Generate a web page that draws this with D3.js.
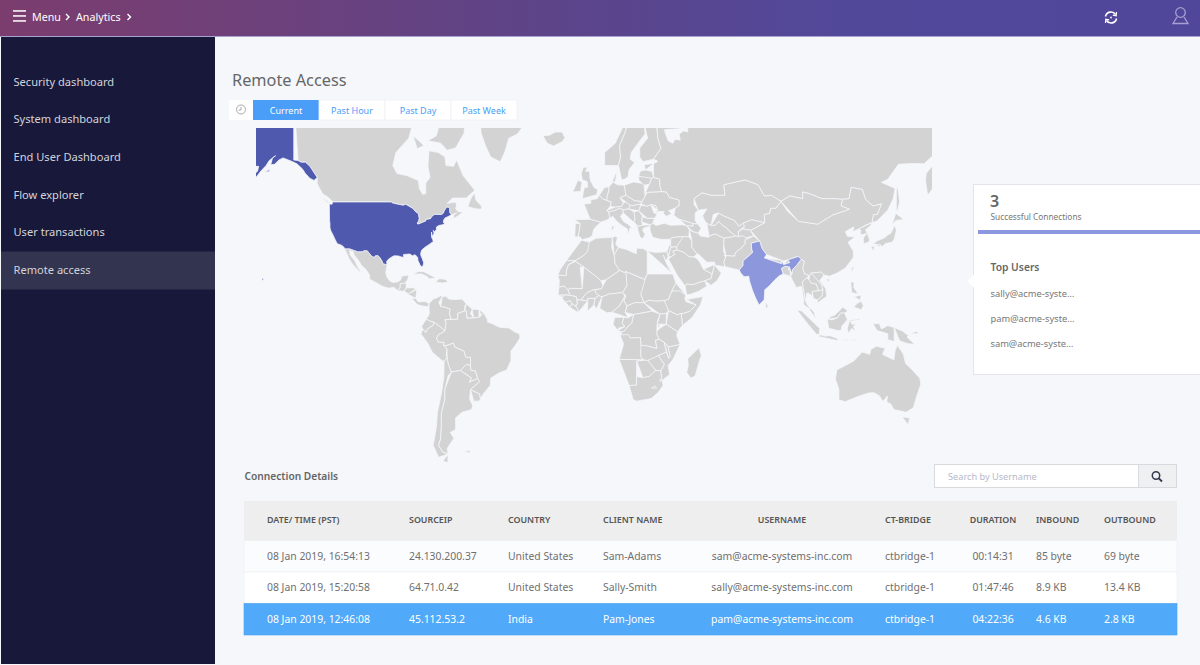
<!DOCTYPE html>
<html><head><meta charset="utf-8">
<script src="https://cdn.jsdelivr.net/npm/d3@7"></script>
<style>
html,body{margin:0;padding:0;background:#f5f7fb;overflow:hidden}
svg{display:block}
text{font-family:"Noto Sans",sans-serif}
</style></head><body>
<script>
// ---------- page text ----------
const navItems = ["Security dashboard","System dashboard","End User Dashboard","Flow explorer","User transactions","Remote access"];
const activeNav = "Remote access";
const tabs = ["Current","Past Hour","Past Day","Past Week"];
const topUsers = ["sally@acme-syste…","pam@acme-syste…","sam@acme-syste…"];
const tableColumns = ["DATE/ TIME (PST)","SOURCEIP","COUNTRY","CLIENT NAME","USERNAME","CT-BRIDGE","DURATION","INBOUND","OUTBOUND"];
const dateTimes = ["08 Jan 2019, 16:54:13","08 Jan 2019, 15:20:58","08 Jan 2019, 12:46:08"];
const sourceIps = ["24.130.200.37","64.71.0.42","45.112.53.2"];
const connCountries = ["United States","United States","India"];
const clientNames = ["Sam-Adams","Sally-Smith","Pam-Jones"];
const usernames = ["sam@acme-systems-inc.com","sally@acme-systems-inc.com","pam@acme-systems-inc.com"];
const bridges = ["ctbridge-1","ctbridge-1","ctbridge-1"];
const durations = ["00:14:31","01:47:46","04:22:36"];
const inbound = ["85 byte","8.9 KB","4.6 KB"];
const outbound = ["69 byte","13.4 KB","2.8 KB"];
const successfulConnections = 3;

// ---------- map outlines: flat lon,lat lists ----------
const unitedStates = [
[-124.3,48.4,-123,48.3,-122.8,49,-95.2,49,-94.6,48.7,-92,48.3,-89.6,48,-88.4,48.3,-84.9,46.9,-84.5,46.5,-83.6,45.8,-82.5,45.3,-82.1,43.6,-82.5,42.6,-83.1,42.1,-82.7,41.7,-79,42.8,-79,43.3,-76.8,43.6,-76.3,44.2,-75,45,-71.5,45,-70.8,45.4,-70.3,46.2,-69.2,47.45,-68.3,47.3,-67.8,47.1,-67.8,45.7,-67,44.9,-68.5,44.3,-70,43.8,-70.7,43,-70.7,42.2,-70,41.8,-71.2,41.5,-72.9,41.2,-74,40.7,-74,39.8,-74.9,38.9,-75.5,39.5,-75.1,38.4,-75.9,37.2,-76.3,38.9,-76.3,37,-75.7,36,-75.5,35.2,-76.6,34.7,-77.9,33.9,-79.2,33.2,-80.9,32,-81.4,30.7,-81.3,29.8,-80.6,28.4,-80,26.8,-80.3,25.4,-81.1,25.1,-81.8,26.1,-82.7,27.8,-82.8,29,-84,30.1,-85.3,29.7,-86.5,30.4,-88,30.3,-89.5,30.2,-89.3,29.1,-90.5,29.2,-91.8,29.6,-93.8,29.7,-94.8,29.3,-96.5,28.3,-97.4,27.3,-97.2,25.95,-99.1,26.4,-99.5,27.5,-100.7,29.1,-101.5,29.8,-102.7,29.7,-103.2,29,-104.5,29.6,-106.5,31.75,-108.2,31.75,-108.2,31.33,-111,31.33,-114.8,32.5,-117.1,32.5,-117.3,33,-118.4,33.8,-119.2,34.1,-120.6,34.5,-121.9,36.6,-122.5,37.7,-123.6,39.3,-124,40.4,-124,42,-124.2,43,-123.8,46.2],
[-141,72,-141,60.3,-139,60.2,-137.5,59.8,-135.5,59.8,-133.4,58.8,-130,56,-131.5,55.2,-133.5,55.8,-135.5,57,-137,58.2,-139.5,59.4,-142,60,-146,60.8,-148,60.3,-150,59.3,-151.8,59.2,-151,60.8,-149.5,61.3,-152.5,60.2,-154,59,-156.5,57.6,-158.5,56.2,-161,55.2,-163.5,54.7,-161.5,55.9,-158,57.6,-157.5,58.8,-160,58.8,-162,58.7,-162,60,-165,60.8,-166,62,-164,63,-161,63.6,-161,64.5,-165,64.5,-168,65.7,-164,66.5,-163,67,-166,72],
[-154.6,57.4,-152.5,57.5,-152.5,58,-153.5,58],
[-155.9,19,-155,19.6,-155.8,20.2,-156,19.6]
];
const india = [
[68.2,23.7,70,25.7,70,27.5,74.5,31,74,32.7,73.9,34.7,77.8,35.5,79,32.5,81,30.2,80,28.8,88,26.4,88.2,27.8,89,26,92,26.9,91,28,96,29.4,97.3,28.2,95,25.5,93.3,24,93,22,92,24.5,91.2,23.7,92,25,89.8,25.3,88,24.5,88.8,22,87,21.2,85,19.5,82.3,16.7,80.2,15,80,12,79.9,10.3,77.5,8,76,11,74.5,14.5,73,19,72.7,21,70.5,20.8,69,22.3,70,22.9]
];
const northAmerica = [
[-141,72,-60,72,-60,68,-85,68,-86,66.5,-87,65,-93,62,-94.5,59,-92.5,57,-88,56.5,-82.5,55.2,-82,53,-80.5,51.3,-79,51.5,-79,54.5,-77,56,-78,58.8,-77.5,62.4,-73,62,-70,61,-69.5,59,-66,58.8,-64.5,60.3,-61.5,56.5,-56,52.5,-60,50.2,-66.5,50.2,-69,48.5,-65,49,-64.5,47.9,-65,47,-64,46,-61.5,45.7,-63.5,44.7,-66,43.6,-66,44.8,-64.5,45.5,-67,44.9,-67.8,45.7,-67.8,47.1,-68.3,47.3,-69.2,47.45,-70.3,46.2,-70.8,45.4,-71.5,45,-75,45,-76.3,44.2,-76.8,43.6,-79,43.3,-79,42.8,-82.7,41.7,-83.1,42.1,-82.5,42.6,-82.1,43.6,-82.5,45.3,-83.6,45.8,-84.5,46.5,-84.9,46.9,-88.4,48.3,-89.6,48,-92,48.3,-94.6,48.7,-95.2,49,-122.8,49,-123,49.3,-125,50.5,-127.5,51.5,-130,54.3,-130,56,-133.4,58.8,-135.5,59.8,-137.5,59.8,-139,60.2,-141,60.3],
[-80,72,-60,72,-61,66,-65,63,-69,62.5,-72,64,-78,64.5,-74,65.5,-73,67,-80,67.5],
[-85,65.5,-81,64,-80,63.5,-83,62.8,-87,63.5],
[-59.3,47.6,-55.9,46.9,-53,46.7,-52.7,47.6,-55.5,49.6,-56,51.6,-57.5,50.5,-59,48.5],
[-123.4,48.4,-125.5,48.9,-128,50.6,-125,50],
[-61,46.9,-60,46,-61,45.6],
[-55,75,-53,66,-51,63.5,-48.5,61,-44,59.9,-42,62,-40,65,-36,65.8,-32,68,-22,71,-20,80,-60,82],
[-24,65.5,-22,64,-19,63.4,-15,64.3,-13.6,65.1,-15,66.2,-18,66.2,-21,65.6,-22.5,66.4],
[-117.1,32.5,-114.8,32.5,-111,31.33,-108.2,31.33,-108.2,31.75,-106.5,31.75,-104.5,29.6,-103.2,29,-102.7,29.7,-101.5,29.8,-100.7,29.1,-99.5,27.5,-99.1,26.4,-97.2,25.95,-97.8,22.5,-97.2,20.6,-96,19,-94.5,18.2,-92,18.6,-90.7,19.5,-90.4,21,-87,21.5,-87.5,19.5,-88.3,18.5,-89.15,17.8,-91,17.8,-91,16.1,-92.2,14.5,-94,16.1,-96.5,15.7,-99.5,16.6,-102,18,-105.5,19.8,-105.4,21.5,-107,23.8,-109.4,26,-110.6,27.8,-112.7,30,-113,31.3,-114.8,31.8,-114.5,30,-112.5,27.8,-110.7,24.5,-109.5,23,-110.2,23,-112.2,25,-114,27,-115,28.5,-116,31],
[-92.2,14.5,-91,16.1,-91,17.8,-89.15,17.8,-88.3,18.5,-88.2,16,-89.2,14.3,-90.5,13.9],
[-89.2,14.3,-88.2,15.8,-85,15.9,-83.2,15,-84.7,14.8,-87,13,-87.8,13.3],
[-87.6,13,-83.2,15,-83.7,11,-85.7,11.1],
[-85.7,11.1,-83.7,11,-82.5,9.4,-79.5,9.6,-77.4,8.7,-77.9,7.2,-80,7.4,-81.5,7.7,-83,8.2,-85.7,10],
[-84.9,21.9,-82.5,23.1,-80,23,-77,21.6,-74.2,20.2,-77.7,19.85,-78,20.7,-81,22,-82.5,22.2],
[-74.4,18.4,-72.8,19.9,-69.9,19.7,-68.4,18.6,-71,18,-72,18.1],
[-78.3,18.4,-76.3,18.2,-77.3,17.8],
[-67.2,18.4,-65.7,18.3,-66.8,17.9]
];
const southAmerica = [
[-77.4,8.7,-75.5,10.7,-74,11.2,-71.7,12.4,-71.3,11.7,-72.9,9.1,-72,7.3,-70,7,-67.5,6.1,-67.9,4,-67,1.2,-70,1.1,-69.5,-0.5,-70,-4.2,-72,-2.4,-75.2,-0.1,-77,0.4,-78.8,1.4,-77.3,3.8,-77.5,6.5,-77.9,7.2],
[-71.3,11.7,-69.8,12.1,-68,10.6,-64,10.5,-62,10.7,-60,8.5,-60.7,7.5,-60.7,5.2,-64,4,-64,1.3,-67,1.2,-67.9,4,-67.5,6.1,-70,7,-72,7.3,-72.9,9.1],
[-60,8.5,-57.2,6,-58,4,-56.5,1.9,-59.7,1.8,-60,5.2,-60.7,5.2,-60.7,7.5],
[-57.2,6,-54,5.8,-54,2.2,-56.5,1.9,-58,4],
[-54,5.8,-51.7,4.2,-52.7,2.3,-54,2.2],
[-78.8,1.4,-77,0.4,-75.2,-0.1,-75.5,-1.5,-78.3,-3.4,-79,-5,-80.3,-3.4,-81,-2.2,-80,0.8],
[-80.3,-3.4,-79,-5,-78.3,-3.4,-75.5,-1.5,-75.2,-0.1,-72,-2.4,-70,-4.2,-73,-6,-74,-7.5,-73,-9.4,-70.5,-9.5,-70.5,-11,-69,-12.5,-69.4,-15.5,-69,-16.5,-70.4,-18.3,-72,-17.3,-76,-14,-78,-10,-81.3,-5.5,-81.3,-4.3],
[-69,-12.5,-70.5,-11,-69.6,-11,-66,-9.8,-65.3,-11.7,-61,-13.5,-60.2,-16.3,-58,-16.3,-58,-20,-60,-19.6,-62.7,-22.2,-67,-22.9,-68.5,-19.4,-69,-16.5,-69.4,-15.5],
[-62.7,-22.2,-60,-19.6,-58,-20,-57.8,-22.1,-55.6,-22.4,-54.6,-25.6,-58.6,-27.2,-57.6,-25.4,-60,-24],
[-70.4,-18.3,-69,-16.5,-68.5,-19.4,-67,-22.9,-68.5,-24.5,-70,-30,-70,-34,-71.7,-39.5,-71.7,-44,-72,-48,-73,-50,-71,-52,-68.5,-52.4,-70.5,-53,-73,-53.5,-75.5,-50,-74,-44,-73.5,-39,-71.5,-31,-70.5,-25,-70.2,-20],
[-68.6,-52.7,-68.6,-55,-71,-54.5,-70,-53.5],
[-68.6,-52.7,-65.2,-54.8,-68.6,-55],
[-67,-22.9,-62.7,-22.2,-60,-24,-57.6,-25.4,-58.6,-27.2,-54.6,-25.6,-53.7,-27,-58,-30.2,-58.4,-34,-57,-36.5,-57.5,-38,-62,-39,-65,-41,-65,-45,-67.5,-46,-65.8,-47.8,-69,-51,-68.5,-52.4,-71,-52,-73,-50,-72,-48,-71.7,-44,-71.7,-39.5,-70,-34,-70,-30,-68.5,-24.5],
[-61,-51.8,-58,-51.5,-58.5,-52.3,-60.5,-52.2],
[-58,-30.2,-53.7,-32,-53.3,-33.9,-54,-34.8,-56.5,-34.8,-58.4,-34],
[-51.7,4.2,-50,1,-50,0,-48,-0.7,-44.3,-2.5,-40,-2.8,-37,-4.8,-35,-5.5,-34.8,-7.5,-37,-11,-39,-13.5,-39,-17.8,-41,-22,-44.5,-23.2,-48.5,-25.5,-48.7,-28.5,-52,-32,-53.3,-33.9,-53.7,-32,-58,-30.2,-53.7,-27,-54.6,-25.6,-55.6,-22.4,-57.8,-22.1,-58,-20,-58,-16.3,-60.2,-16.3,-61,-13.5,-65.3,-11.7,-66,-9.8,-69.6,-11,-70.5,-11,-70.5,-9.5,-73,-9.4,-74,-7.5,-73,-6,-70,-4.2,-69.5,-0.5,-70,1.1,-67,1.2,-64,1.3,-64,4,-60.7,5.2,-60,5.2,-59.7,1.8,-56.5,1.9,-54,2.2,-52.7,2.3]
];
const africa = [
[-5.9,35.8,-2.2,35.1,-1.2,32.1,-3,31.5,-5,29.7,-8.7,27.7,-13,27.7,-9.8,31.4,-6.8,34],
[-8.7,27.7,-13,27.7,-16,23.7,-17,21.4,-13,21.3,-13,23,-12,26,-8.7,26],
[-2.2,35.1,1,36.6,8.6,36.9,8.3,33,9.5,30,9.9,26.5,12,23.5,5.8,19.5,3.3,19,1.2,20.7,-4.8,25,-8.7,27.3,-8.7,27.7,-5,29.7,-3,31.5,-1.2,32.1],
[8.6,36.9,10,37.3,11,36.8,10.2,34.3,11.5,33,10,30.5,9.5,30,8.3,33],
[11.5,33,15,32.3,19.8,30.5,20,32.7,23,32.6,25,31.6,25,22,24,20,24,19.5,15,23,14.2,22.6,12,23.5,9.9,26.5,9.5,30,10,30.5],
[25,31.6,29,31,32,31.2,34.2,31.3,34.9,29.5,34,27.8,33.2,28.5,32.6,30,33.8,27,35.5,24,37,22,25,22],
[-8.7,27.3,-4.8,25,-6.5,25,-5.5,15.5,-11.5,15.6,-12.2,14.8,-14,16.6,-16.5,16.1,-16.3,19,-17,21.4,-13,21.3,-13,23,-12,26,-8.7,26],
[-4.8,25,1.2,20.7,3.3,19,4.2,16.8,3.5,15.4,0.5,15,-1.5,14.5,-3.5,13.4,-4.8,12,-6,10.3,-8,10.2,-8.3,11.8,-11.4,12.4,-12.2,14.8,-11.5,15.6,-5.5,15.5,-6.5,25],
[5.8,19.5,12,23.5,14.2,22.6,15,23,15.5,20,15.5,16.9,13.5,13.7,10,13.3,7,13,3.7,11.7,2.3,12.3,0.9,13.3,0.5,15,3.5,15.4,4.2,16.8,3.3,19],
[15,23,24,19.5,24,15.7,22,13,23.5,9,19,9,15.5,7.5,14,9.9,15,12.2,13.5,13.7,15.5,16.9,15.5,20],
[-16.5,16.1,-14,16.6,-12.2,14.8,-11.4,12.4,-13.7,12.6,-16.8,12.4,-17.5,14.7],
[-16.8,12.4,-13.7,12.6,-13.7,11.2,-15,11],
[-13.7,12.6,-11.4,12.4,-8.3,11.8,-8,10.2,-7.8,8.5,-9,7.6,-10.3,8.5,-11.2,10,-13.3,9.2,-15,11,-13.7,11.2],
[-13.3,9.2,-11.2,10,-10.3,8.5,-11.4,6.9,-13.3,8],
[-11.4,6.9,-10.3,8.5,-9,7.6,-8.5,7.5,-7.5,5.9,-7.5,4.4,-9.2,5.2],
[-7.5,4.4,-7.5,5.9,-8.5,7.5,-7.8,8.5,-8,10.2,-6,10.3,-4.8,10,-2.9,9.9,-3,5.2],
[-6,10.3,-4.8,12,-3.5,13.4,-1.5,14.5,0.5,15,0.9,13.3,2.3,12.3,0.5,11,-2.9,11,-2.9,9.9,-4.8,10],
[-3,5.2,-2.9,11,0.5,11,0,8,1.2,6.1],
[1.2,6.1,0,8,0.5,11,2.3,12.3,3.7,11.7,2.7,6.4],
[2.7,6.4,3.7,11.7,7,13,10,13.3,13.5,13.7,14.5,12,12,7.5,8.5,4.6,6,4.3,4.5,6.3],
[8.5,4.6,12,7.5,14.5,12,15,12.2,14,9.9,15.5,7.5,14.7,4.5,16,2,9.8,2.2],
[14.7,4.5,15.5,7.5,19,9,23.5,9,27.4,5.1,22.5,4.2,18.6,3.5,16,2],
[24,19.5,25,22,37,22,38.5,18,36.5,14.3,35,10.5,33,10,29,9.7,26,10.2,23.5,9,22,13,24,15.7],
[23.5,9,26,10.2,29,9.7,33,10,34,8.5,35,5.4,34,4,31,3.7,27.4,5.1],
[36.5,14.3,38.5,18,43.1,12.6,40,14.5],
[33,10,35,10.5,36.5,14.3,40,14.5,43.1,12.6,42.7,11,43.2,9.5,48,8,45,5,42,4,41,3.9,39,3.4,35,5.4,34,8.5],
[42.7,11,44,10.6,51.2,11.9,50,8,46,2,41.5,-1.7,41,3.9,42,4,45,5,48,8,43.2,9.5],
[35,5.4,39,3.4,41,3.9,41.5,-1.7,39.2,-4.6,33.9,-1,34,4],
[31,3.7,34,4,33.9,-1,30.7,-1,29.6,-1.4,30,1],
[33.9,-1,39.2,-4.6,38.8,-6.5,39.5,-8,40.4,-10.5,36,-11.5,34.8,-11.5,33,-9.5,30.7,-8.2,29.5,-6,29.5,-4.4,30.8,-3,30.7,-1],
[29.6,-1.4,30.7,-1,30.8,-3,29.5,-4.4],
[12.2,-6,13,-5.8,12.5,-4.5,14,-4.5,16,-2,17.7,-0.5,18.6,3.5,22.5,4.2,27.4,5.1,31,3.7,30,1,29.6,-1.4,29.5,-4.4,29.5,-6,30.7,-8.2,28.9,-8.5,29.5,-12.4,27.5,-11.8,24,-11,22,-11,21.8,-7.3,17,-7.5,16.2,-5.9],
[11.2,-4,12.5,-4.5,14,-4.5,16,-2,17.7,-0.5,18.6,3.5,16,2,14,2.2,13.2,-0.5,14.4,-2.2,11.6,-2.8],
[9.8,2.2,14,2.2,13.2,-0.5,14.4,-2.2,11.6,-2.8,11.2,-4,8.9,-1,9.3,0.5],
[12.2,-6,16.2,-5.9,17,-7.5,21.8,-7.3,22,-11,24,-11,22,-13,22,-16.2,23.4,-17.6,19,-17.4,11.8,-17.3,13.7,-11,13.8,-10,13,-8.5],
[22,-11,24,-11,27.5,-11.8,29.5,-12.4,28.9,-8.5,30.7,-8.2,33,-9.5,34,-14,30.2,-15.6,28,-17,25.3,-17.8,23.4,-17.6,22,-16.2,22,-13],
[33,-9.5,34.8,-11.5,35.8,-16,35,-16.9,34,-14],
[40.4,-10.5,36,-11.5,34.8,-11.5,35.8,-16,35,-16.9,34,-14,30.2,-15.6,33,-19.5,31.3,-22.4,32,-26.8,33,-25.7,35.5,-24,34.8,-20,37,-17.5,40.7,-14.5],
[30.2,-15.6,33,-19.5,31.3,-22.4,29,-22.2,25.3,-17.8,28,-17],
[20,-18,23.4,-17.6,25.3,-17.8,29,-22.2,26,-24.7,23,-25.3,20,-24.8],
[11.8,-17.3,19,-17.4,23.4,-17.6,20,-18,20,-28.4,16.5,-28.6,14.5,-22.5],
[16.5,-28.6,20,-28.4,20,-24.8,23,-25.3,26,-24.7,29,-22.2,31.3,-22.4,32,-26.8,32.5,-28.5,30,-31.5,27,-33.7,25.5,-34,20,-34.8,18.4,-34.2,18,-32],
[27,-29.6,28.6,-28.7,29.4,-29.7,28,-30.6],
[30.8,-26.8,31.3,-25.8,32,-26.4,31.6,-27.2],
[49.3,-12,50.4,-15.5,49.5,-18,47.5,-24.5,45.5,-25.5,43.5,-23,44.3,-20,44,-17,46.5,-15.7]
];
const europe = [
[-9.2,43.2,-1.8,43.4,3.2,42.4,0.7,40.7,-0.3,39.5,-0.7,37.7,-2,36.8,-5.5,36,-6.5,37,-7.4,37.2,-7,39.5,-6.5,41.9,-8.8,41.9],
[-8.8,41.9,-6.5,41.9,-7,39.5,-7.4,37.2,-9,37,-9.5,38.7],
[-1.8,43.4,3.2,42.4,6,43.1,7.5,43.8,6.9,45.8,6,46.3,7.6,47.6,8.2,49,6,49.5,4,50,2.5,51,1.5,50,-1.5,49.7,-1.5,48.6,-4.7,48.4,-1.2,46],
[2.5,51,4,50,6,49.5,6.2,50.8,7,52.3,7,53.4,5,53.3,3.8,51.8],
[7,53.4,7,52.3,6.2,50.8,6,49.5,8.2,49,7.6,47.6,10,47.4,13,47.6,13.8,48.7,12.2,50.3,15,51,14.6,53,14.2,53.9,11,54,9,54.8,8.6,54],
[8.6,54.9,10,54.8,10.5,56.5,10.6,57.7,8.2,57],
[6,46.3,6.9,45.8,8.5,46,10.5,46.5,12.2,47,13.7,46.5,16.3,46.8,17,48,15,49,13.8,48.7,13,47.6,10,47.4,7.6,47.6],
[6.9,45.8,7.5,43.8,8.8,44.4,10.3,43,12.3,41.7,14,40.8,15.7,40,16,38,16.5,39,16.9,40.4,18.5,40,16,41.7,14,42.5,12.4,44.3,13.7,45.6,13.7,46.5,12.2,47,10.5,46.5,8.5,46],
[12.5,38,15.6,38.2,15.1,36.7],
[8.3,39,8.3,41,9.7,41,9.6,39.2],
[8.7,41.7,9.4,43,9.5,41.6],
[14.2,53.9,18.5,54.8,23,54.4,23.5,53.9,23.9,51.5,24.1,50.8,22.6,49.1,19,49.4,15,51,14.6,53],
[12.2,50.3,15,51,19,49.4,22.6,49.1,22.1,48.4,18,47.8,17,48,15,49,13.8,48.7],
[16.3,46.8,17,48,18,47.8,22.1,48.4,21,46.2,18.8,45.9],
[13.7,45.6,13.7,46.5,16.3,46.8,18.8,45.9,19.2,44.9,19.3,43,18.4,42.5,16,43.5],
[18.8,45.9,21,46.2,22.7,44.5,22.4,42.5,22.9,41.3,20.6,41,19.4,42,18.4,42.5,19.3,43,19.2,44.9],
[19.4,42,20.6,41,20.5,39.8,19.4,40.4],
[20.5,39.8,20.6,41,22.9,41.3,26.3,41.5,26,40.9,23.5,40.4,22.8,39.5,24,38,23,36.5,21.7,36.8,21,38.3],
[23.5,35.3,26.2,35.2,24.5,35],
[22.4,42.5,22.7,44.2,25,43.7,28.5,43.6,27.7,42.5,28,42,26.3,41.5,22.9,41.3],
[21,46.2,22.1,48,24.9,47.7,26.6,48.2,28.2,45.5,29.7,45.2,28.6,43.8,25,43.7,22.7,44.2],
[26.6,48.2,29,47.9,30,46.4,28.2,45.5],
[24.1,50.8,22.6,49.1,22.1,48.4,24.9,47.7,26.6,48.2,29,47.9,30,46.4,28.2,45.5,30.5,46,33,46,32.5,45.4,34,44.4,36.5,45.2,35,46.2,38.2,47.1,40,47.8,40,49.6,35.5,50.4,34,52,31.8,52.1,25,51.9,23.9,51.5],
[23.9,51.5,25,51.9,31.8,52.1,31,53.5,30.8,55.6,28,56,27,55.8,26,54.2,23.5,53.9],
[21,55.3,21,56.3,25,56.3,27,55.8,26,54.2,23.5,53.9,23,54.4],
[21,56.3,21.7,57.6,24.3,57.9,27.3,57.5,28,56,27,55.8,25,56.3],
[24.3,57.9,23.5,59.2,28,59.5,27.3,57.5],
[5,59,5,62,10,64,14,67.5,16,69.5,25,71,31,70.3,29,69,25,69,20,69,16,68,14.5,66,12,63.5,12.5,61,11.5,59,8,58],
[11.5,59,12.5,61,12,63.5,14.5,66,16,68,20,69,23.5,67.8,24,65.8,21.5,64.5,17.5,62,17,60.5,19,59.7,16.5,58,16,56.2,14.3,55.5,13,55.4,11,58],
[23.5,67.8,20,69,25,69,29,69,30,65,31.5,62.9,27.9,60.5,23,59.9,21.5,61,21.5,63,25.2,65,24,65.8],
[-5.5,50,1.3,51.2,1.7,52.7,0,53.3,-1.5,55,-2,56,-2,57.6,-4,57.6,-3,58.6,-5,58.6,-6,57,-5.5,55.4,-3.2,54.9,-3,53.3,-4.5,53.3,-5,52,-3,51.4],
[-10,52,-6.2,52.2,-6,53.5,-5.6,54.7,-7.5,55.3,-10,54],
[28,59.5,30,60,27.9,60.5,31.5,62.9,30,65,29,70,41,70,40,66.8,35,66.7,33,66.6,34.8,64.5,37,64,38,64.8,40.5,64.6,40,65.8,42,66.4,44,66.2,44,68,54,69,68,69,73,72,180,72,180,65,170,60,163,58,162,55,158.5,52.5,156.7,51,155.7,55,156,57,163,61.5,160,61.7,155,59.4,150,59.5,143,59.3,138,55.5,135,54.7,141.4,53,140.5,50,138,46.5,133,42.8,130.7,42.3,130.7,43,131.2,45,133,45,135,48.4,131,47.7,127.5,49.8,126,52.7,120.8,53.3,119.8,50,116.7,49.8,113,50,107,50,102,51.3,98,52,98,50,92,50.8,87.8,49.2,83.3,51,80,50.8,77,54,71,55.3,68.5,55,61,54,61.5,51,55,51,50.7,51.7,47,50,47,48.2,49,46.4,47.5,45.5,47.5,43,48.6,41.8,46.5,41.9,40,43.4,37.5,44.7,38.2,47.1,40,47.8,40,49.6,35.5,50.4,34,52,31.8,52.1,31,53.5,30.8,55.6,28,56,27.3,57.5],
[142,54.3,143,52,143.5,49,142.7,46.6,142,46,142,50,141.7,52.5]
];
const asia = [
[40,43.4,46.5,41.9,46.5,41,43.5,41.1,41.5,41.5],
[43.5,41.1,46.5,41,46.5,41.9,48.6,41.8,50.3,40.3,49,38.4,46.5,39,44.8,39.7],
[26.3,41.5,28,42,29,41.2,33,42,36,41.3,41.5,41.5,43.5,41.1,44.8,39.7,44.5,37.1,42,37.2,36.5,36.8,36,36.2,32,36.1,30.5,36.3,27.5,37,26.3,39.5,26.3,40.3],
[32.5,35,34.5,35.6,33.8,34.8],
[36,36.2,36.5,36.8,42,37.2,41,34.5,38.8,33.4,36,33,35.8,35],
[36,33,38.8,33.4,39,32,37,31.5,38,30.2,36,29.2,35,29.5,35.5,31.5],
[35.8,35,36,33,35.5,31.5,35,29.5,34.2,31.3,35,33],
[42,37.2,44.5,37.1,46,35.5,46,33,48.5,30.3,47.7,30,47,29.2,44.8,29.2,42,31.1,39,32,38.8,33.4,41,34.5],
[36,29.2,38,30.2,37,31.5,39,32,42,31.1,44.8,29.2,47,29.2,48.5,28.4,50,26.7,51,24.6,51.5,24,55.5,22,55,20,52,19,48.7,18,46.7,17.3,43.5,17.5,42.8,16.5,41,19,39,21.5,37,25,35,28.2,34.9,29.5],
[42.8,16.5,43.5,17.5,46.7,17.3,48.7,18,52,19,53,16.6,49,14.2,45,12.8,43.5,12.7,43.2,15],
[52,19,55,20,55.5,22,56.3,24.8,56.4,26.2,58.7,23.5,59.8,22.4,57.8,19,55,17,53,16.6],
[51.5,24,55.5,22,56.3,24.8,56.3,26,54,24.2],
[44.8,39.7,46.5,39,49,38.4,50,37.4,54,36.9,54,37.4,57,38.2,61,36.6,61,34,60.8,31.5,62,29.5,61,27,61.6,25.1,57,25.7,56.5,27.1,53,27,50.8,28.9,49,30.4,48.5,30.3,46,33,46,35.5,44.5,37.1],
[54,37.4,57,38.2,61,36.6,64.5,37,66.5,37.4,64,39,62,40.5,60,41.5,58.5,42.7,57,41.3,55,41.3,53,42,53,39],
[55,41.3,57,41.3,58.5,42.7,60,41.5,62,40.5,64,39,66.5,37.4,68,37.2,67.7,39,70.7,41,73,40.8,70,42,68,41,66,43,61,44.5,58.5,45.5,56,45],
[47,50,50.7,51.7,55,51,61.5,51,61,54,68.5,55,71,55.3,77,54,80,50.8,83.3,51,87.8,49.2,85.5,47,83,47,82.5,45.3,80,45,80.2,42.2,74,43.2,70,42,68,41,66,43,61,44.5,58.5,45.5,56,45,55,41.3,53,42,52,42.8,51,44.6,53,46.8,49,46.4,47,48.2],
[70,42,74,43.2,80.2,42.2,76,40.4,73.5,39.5,70,40,70.7,41,73,40.8],
[68,37.2,67.7,39,70,40,73.5,39.5,75,37.4,71.5,36.7,70,37.5],
[61,34,61,36.6,64.5,37,66.5,37.4,68,37.2,70,37.5,71.5,36.7,75,37.4,71,36,71,34.5,69.5,33,66.5,31,66,29.5,61,29.8,62,29.5,60.8,31.5],
[61.6,25.1,61,27,62,29.5,61,29.8,66,29.5,66.5,31,69.5,33,71,34.5,71,36,75,37.4,77.8,35.5,73.9,34.7,74,32.7,74.5,31,70,27.5,70,25.7,68.2,23.7,66.5,25.4],
[80,28.8,88,26.4,88.2,27.8,81,30.2],
[89,26,92,26.9,91,28,89,27.5],
[88.8,22,88,24.5,89.8,25.3,92,25,91.2,23.7,92,24.5,92.3,21,91,22.6],
[80,9.7,81.8,7.5,81,6,80,6.2],
[73.5,39.5,76,40.4,80.2,42.2,80,45,82.5,45.3,83,47,85.5,47,87.8,49.2,91,46,96,42.7,105,41.7,112,44.8,119.9,46.7,116,47.8,116.7,49.8,119.8,50,120.8,53.3,126,52.7,127.5,49.8,131,47.7,135,48.4,133,45,131.2,45,130.7,43,130.7,42.3,128,41.5,124.3,40,121.5,39,122,40.7,118,39,119,37.3,122.5,37,119.3,35,121.8,31.5,121.8,29,118,24.5,114,22.3,110.5,21,108,21.6,106.5,22.8,102,22.4,101.2,21.2,99,22,98,24,98.7,27.5,97.3,28.2,96,29.4,91,28,89,27.5,88.2,27.8,81,30.2,79,32.5,77.8,35.5,75,37.4],
[108.7,19.3,110.5,20,110.5,18.7,109,18.2],
[121,25,122,25,120.9,22,120,23],
[87.8,49.2,92,50.8,98,50,98,52,102,51.3,107,50,113,50,116.7,49.8,116,47.8,119.9,46.7,112,44.8,105,41.7,96,42.7,91,46],
[130.7,42.3,129.7,41,127.5,39.7,128.3,38.6,126.7,38,125,38,125.3,39.5,124.3,40,128,41.5],
[128.3,38.6,129.4,36,129,35.1,126.5,34.4,126.5,36.7,126.7,38],
[141.2,41.4,142,39.5,140.9,36,139.8,35,137,34.6,135.5,33.5,132.5,34.3,131,34.4,133,35.6,136.7,36.8,137.3,37.4,139.5,38.5,140,40.5],
[140,41.5,141.8,43,145.3,43.3,144.3,44,141.7,45.4,141.5,43.2],
[130,33.4,131.7,33.5,131.3,31.4,130.2,31.3],
[132.5,33.9,134.6,34.2,134,33.3,132.8,32.8],
[92.3,21,93,22,93.3,24,95,25.5,97.3,28.2,98.7,27.5,98,24,99,22,101.2,21.2,100,20.4,97.8,18.5,98.5,16,99,12,98.5,10,98,14,97.5,16.5,95,16,94.3,18.5],
[97.8,18.5,100,20.4,101,19.5,102,18,104.5,17.5,105.5,14.5,102.5,14.2,102.5,12,100.9,13.4,100,13.4,99.2,10,100.5,7.5,102,6.2,100.8,6.4,98.5,8.2,98.5,10,99,12,98.5,16],
[101.2,21.2,102,22.4,104.5,20,107,17,107.5,15,105.5,14.5,104.5,17.5,102,18,101,19.5,100,20.4],
[102,22.4,106.5,22.8,108,21.6,106,19,108.8,15.5,109.3,12,107,10.4,105,8.8,105,10.4,107,12,107.5,15,107,17,104.5,20],
[102.5,14.2,105.5,14.5,107.5,15,107,12,105,10.4,103,11,102.5,12],
[100.8,6.4,102,6.2,103.4,4.5,104.2,1.4,101.3,2.9],
[95.3,5.6,97.5,5.2,100.3,2.5,104,-1,106,-3,105.8,-5.8,104.5,-5.8,100.5,-1,97,2.5],
[109.6,1.4,111.5,2.7,113,3.2,115,5,116.8,7,119.2,5.3,117.7,4.2,115.8,4.2,114.5,2,112,1],
[109.6,1.4,112,1,114.5,2,115.8,4.2,117.7,4.2,119,1,116.5,-1.8,116,-4,114.5,-4,110.2,-2.9,109,0],
[105.3,-6.8,106.5,-6,108.5,-6.6,110.8,-6.4,114.5,-7.8,114.4,-8.7,108.5,-7.8],
[119.5,-5.5,119,-3,120,0.8,124.8,1.5,125,1,120.5,0.4,121,-1,123.3,-1,121.8,-2,122.8,-4.5,121,-3,120.4,-5.5],
[120.6,18.5,122.2,18.4,122,16,124,13,121,13.7,120,15],
[122,7,123.5,8.6,125.5,9.8,126.5,7.5,125.5,5.7,124,6.6],
[122,11.8,125.5,12.5,125,10.2,122.5,9.5],
[117.3,8.4,119.5,11.4,119.5,10.4],
[119,-8.4,123,-8.3,123,-8.8,119,-8.9],
[124,-10,127,-8.4,125,-9.3],
[115.8,-8.4,119,-8.2,119,-8.8,116,-9],
[127.5,2,128.5,1,128,-0.5],
[128,-3,130.8,-3.4,128,-3.5]
];
const oceania = [
[131,-0.8,134,-0.8,135,-3.3,138,-1.7,141,-2.6,141,-9.1,138,-8.3,138,-5.5,133,-4,132,-2.8],
[141,-2.6,145,-4.3,147.7,-6.5,147,-7,150.7,-10.5,147,-10,143.5,-8.8,141,-9.1],
[148.3,-5.5,152,-4.2,152,-5.5,150,-6.3],
[154.7,-5.4,156,-6.8,155,-6.6],
[157,-7.5,159,-8.3,157.5,-8.2],
[114,-22,113.4,-26,115,-30,115,-34.3,118,-35,124,-33,129,-31.6,131.5,-31.5,134,-32.7,135.7,-34.9,137.8,-32.8,137.5,-35.1,139.5,-36,140.8,-38,144,-38.5,146.5,-39,150,-37.3,151.5,-33,153.5,-28,153,-25.5,149.5,-22,146.3,-19,145.3,-15,142.5,-10.8,141.5,-13,140.8,-17.5,137.5,-16,135.5,-15,136.8,-12.2,132.6,-11.3,130,-12.8,129.5,-15,126,-14,122,-18,119,-20],
[144.7,-40.7,148.3,-41,147.5,-43.3,146,-43.5],
[69,-49,70.5,-49.2,69.5,-49.7]
];

// ---------- drawing ----------
const W = 1200, H = 665;
const svg = d3.select("body").append("svg").attr("width",W).attr("height",H);
const defs = svg.append("defs");
const grad = defs.append("linearGradient").attr("id","hdr");
[["0%","#7c3d6e"],["45%","#5d4488"],["70%","#52489a"],["100%","#51479a"]].forEach(s=>grad.append("stop").attr("offset",s[0]).attr("stop-color",s[1]));
defs.append("clipPath").attr("id","mapClip").append("rect").attr("x",256).attr("y",128).attr("width",676).attr("height",345);

svg.append("rect").attr("width",W).attr("height",H).attr("fill","#f5f7fb");
// map
const projection = d3.geoMercator().scale(122).translate([594,322]);
const planar = d3.geoTransform({point(x,y){const p=projection([x,y]);this.stream.point(p[0],p[1]);}});
const path = d3.geoPath(planar);
const toFeature = ring => ({type:"Polygon",coordinates:[d3.range(0,ring.length,2).map(i=>[ring[i],ring[i+1]])]});
const mapG = svg.append("g").attr("clip-path","url(#mapClip)");
function drawLand(rings,fill){
  mapG.append("g").selectAll("path").data(rings.map(toFeature)).join("path")
    .attr("d",path).attr("fill",fill).attr("stroke","#f5f7fb").attr("stroke-width",0.75).attr("stroke-linejoin","round");
}
[northAmerica,southAmerica,africa,europe,asia,oceania].forEach(r=>drawLand(r,"#d3d3d3"));
drawLand(unitedStates,"#4f5aae");
drawLand(india,"#8d97dc");

// header
svg.append("rect").attr("width",W).attr("height",36).attr("fill","url(#hdr)");
svg.append("rect").attr("y",36).attr("width",W).attr("height",1).attr("fill","#a9a4cf");
// sidebar
svg.append("rect").attr("x",1).attr("y",37).attr("width",214).attr("height",627).attr("fill","#18193a");
const navY = d3.scalePoint().domain(navItems).range([81.5,270]);
svg.append("rect").attr("x",1).attr("y",navY(activeNav)-18.5).attr("width",214).attr("height",38).attr("fill","#33344f");
svg.selectAll(".nav").data(navItems).join("text").attr("class","nav").attr("x",13.5).attr("y",d=>navY(d)+4)
  .attr("font-size",11.1).attr("fill","#d2d3da").text(d=>d);
// header contents
const hamburgerYs=[11,16,21];
svg.selectAll(".hb").data(hamburgerYs).join("rect").attr("x",13).attr("y",d=>d-0.8).attr("width",13).attr("height",1.5).attr("fill","#fff");
const crumbs=[["Menu",32],["Analytics",76]];
svg.selectAll(".cr").data(crumbs).join("text").attr("x",d=>d[1]).attr("y",21).attr("font-size",10.7).attr("fill","#fff").text(d=>d[0]);
[67.5,129].forEach(x=>svg.append("path").attr("d",`M${x-1.5},14 l3,3 l-3,3`).attr("fill","none").attr("stroke","#fff").attr("stroke-width",1.4));
// refresh icon
const ic=svg.append("g").attr("transform","translate(1111,17.5)").attr("fill","none").attr("stroke","#fff").attr("stroke-width",1.6);
ic.append("path").attr("d","M-5.5,-1 A5.5,5.5 0 0 1 4.5,-3");
ic.append("path").attr("d","M5.5,1 A5.5,5.5 0 0 1 -4.5,3");
ic.append("path").attr("d","M5.5,-5.5 L5.2,-1.8 L1.8,-2.4").attr("stroke-width",1.2);
ic.append("path").attr("d","M-5.5,5.5 L-5.2,1.8 L-1.8,2.4").attr("stroke-width",1.2);
ic.append("circle").attr("r",0.9).attr("fill","#fff").attr("stroke","none");
// user icon
const ui=svg.append("g").attr("transform","translate(1180.5,16)").attr("fill","none").attr("stroke","#a69fd2").attr("stroke-width",1.3);
ui.append("circle").attr("cy",-3.5).attr("r",4.8);
ui.append("path").attr("d","M-3.5,1 L-7.5,7.5 L7.5,7.5 L3.5,1");

// title and tabs
svg.append("text").attr("x",232).attr("y",85.5).attr("font-size",16.3).attr("fill","#666").text("Remote Access");
svg.append("rect").attr("x",229).attr("y",100).attr("width",288).attr("height",20).attr("fill","#fff");
const tabX=d3.scaleBand().domain(tabs).range([253,517]);
svg.selectAll(".tabbg").data(tabs).join("rect").attr("class","tabbg").attr("x",d=>tabX(d)).attr("y",100).attr("width",tabX.bandwidth()).attr("height",20)
  .attr("fill",(d,i)=>i==0?"#4a9ef7":"#fff").attr("stroke",(d,i)=>i==0?"none":"#eff1f5").attr("stroke-width",0.8);
svg.selectAll(".tabt").data(tabs).join("text").attr("class","tabt").attr("x",d=>tabX(d)+tabX.bandwidth()/2).attr("y",113.5).attr("text-anchor","middle")
  .attr("font-size",9).attr("fill",(d,i)=>i==0?"#fff":"#4a9ef7").text(d=>d);
const clk=svg.append("g").attr("transform","translate(241,109.5)").attr("fill","none").attr("stroke","#a9a9a9").attr("stroke-width",1);
clk.append("circle").attr("r",4.5); clk.append("path").attr("d","M0,-2.5 L0,0.5 L-2.5,0.5");

// side panel
svg.append("rect").attr("x",973.5).attr("y",184.5).attr("width",240).attr("height",190).attr("fill","#fff").attr("stroke","#e3e5ea");
svg.append("path").attr("d","M974,274.5 L967.5,281 L974,287.5 Z").attr("fill","#fff");
svg.append("rect").attr("x",978).attr("y",230).attr("width",222).attr("height",4).attr("fill","#8d97e0");
svg.append("text").attr("x",990).attr("y",207).attr("font-size",16).attr("font-weight",600).attr("fill","#666").text(successfulConnections);
svg.append("text").attr("x",990.5).attr("y",220).attr("font-size",8.3).attr("fill","#777").text("Successful Connections");
svg.append("text").attr("x",990.5).attr("y",270.5).attr("font-size",10.3).attr("font-weight",600).attr("fill","#666").text("Top Users");
const userY=d3.scalePoint().domain(topUsers).range([297,347]);
svg.selectAll(".tu").data(topUsers).join("text").attr("class","tu").attr("x",990.5).attr("y",d=>userY(d)).attr("font-size",9.3).attr("fill","#777").text(d=>d);

// connection details
svg.append("text").attr("x",244.5).attr("y",480).attr("font-size",10.2).attr("font-weight",600).attr("fill","#666").text("Connection Details");
svg.append("rect").attr("x",934.5).attr("y",464.5).attr("width",204).attr("height",23).attr("fill","#fff").attr("stroke","#d8dade");
svg.append("rect").attr("x",1138.5).attr("y",464.5).attr("width",38).attr("height",23).attr("fill","#eef0f2").attr("stroke","#d8dade");
svg.append("text").attr("x",948).attr("y",480).attr("font-size",9.2).attr("fill","#b6b9ca").text("Search by Username");
const si=svg.append("g").attr("transform","translate(1156,475.5)").attr("fill","none").attr("stroke","#34384f").attr("stroke-width",1.5);
si.append("circle").attr("r",3.7); si.append("path").attr("d","M2.8,2.8 L6,6").attr("stroke-width",1.9);

// table
const colLeft=[267,409,508,603,782,885,993,1036,1104];
const colAnchor=["start","start","start","start","middle","start","middle","start","start"];
const colValues=[dateTimes,sourceIps,connCountries,clientNames,usernames,bridges,durations,inbound,outbound];
svg.append("rect").attr("x",244).attr("y",501).attr("width",933).attr("height",39).attr("fill","#eeeeee");
const rowY=d3.scaleBand().domain(d3.range(dateTimes.length)).range([540.5,635]);
svg.selectAll(".rw").data(d3.range(dateTimes.length)).join("rect").attr("class","rw").attr("x",244).attr("y",d=>rowY(d)).attr("width",933).attr("height",rowY.bandwidth())
  .attr("fill",d=>d==2?"#51a9f9":(d==0?"#fbfcfe":"#fff")).attr("stroke",d=>d==2?"#4aa0ee":"#eceef2").attr("stroke-width",0.6);
svg.selectAll(".hd").data(tableColumns).join("text").attr("class","hd").attr("x",(d,i)=>colLeft[i]).attr("y",523)
  .attr("text-anchor",(d,i)=>colAnchor[i]).attr("font-size",8.9).attr("font-weight",600).attr("fill","#555").text(d=>d);
colValues.forEach((vals,c)=>{
  svg.append("g").selectAll("text").data(vals).join("text").attr("x",colLeft[c]).attr("y",(d,i)=>rowY(i)+rowY.bandwidth()/2+3.5)
    .attr("text-anchor",colAnchor[c]).attr("font-size",10.4).attr("fill",(d,i)=>i==2?"#fff":"#6f6f6f").text(d=>d);
});
</script>
</body></html>
